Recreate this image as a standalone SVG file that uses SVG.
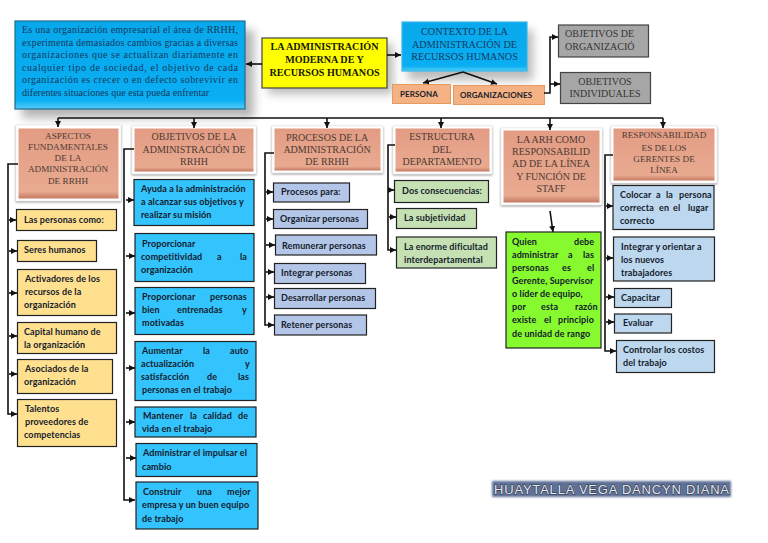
<svg xmlns="http://www.w3.org/2000/svg" width="768" height="543" viewBox="0 0 768 543">
<style>
text{font-family:"Liberation Serif","Times New Roman",serif;fill:#3f3a38}
.m{text-anchor:middle}
.h1{font-size:10px;fill:#4e3a33}
.h2{font-size:9.2px;fill:#4e3a33}
.p{font-size:10px;fill:#123a5e}
.t{font-size:10.1px;font-weight:bold;fill:#17170a}
.c{font-size:10.2px;fill:#123a5e}
.g{font-size:10px;fill:#333}
.i{font-family:Lato,"Open Sans",sans-serif;font-weight:bold;font-size:9px;letter-spacing:.1px;fill:#14202c}
.b{stroke:#222;stroke-width:1.2}
.y{fill:#ffe08f}.s{fill:#33c3fd}.v{fill:#b4c6e7}.l{fill:#c5e0b3}.k{fill:#86f92f}.u{fill:#bdd7ee}
.o{fill:#f4b183;stroke:#e59a5f;stroke-width:1}
.f{fill:#fff;stroke:#ececec;stroke-width:.6}
.w{fill:none;stroke:#111;stroke-width:1.6}
.a{marker-end:url(#ah)}
</style>
<defs>
<marker id="ah" markerUnits="userSpaceOnUse" markerWidth="7" markerHeight="7" refX="6" refY="3" orient="auto"><path d="M0 0L6 3L0 6z" fill="#111"/></marker>
<filter id="sh" x="-15%" y="-20%" width="135%" height="150%"><feGaussianBlur stdDeviation="5"/></filter>
<filter id="sf" x="-10%" y="-10%" width="120%" height="120%"><feDropShadow dx="0" dy="1" stdDeviation="1.2" flood-color="#999"/></filter>
<filter id="tb" x="-5%" y="-30%" width="110%" height="160%"><feGaussianBlur stdDeviation="1.2"/></filter>
<linearGradient id="sal" x1="0" y1="0" x2="0" y2="1"><stop offset="0" stop-color="#e39c84"/><stop offset=".9" stop-color="#e8aa90"/><stop offset="1" stop-color="#c47a60"/></linearGradient>
<linearGradient id="blu" x1="0" y1="0" x2="0" y2="1"><stop offset="0" stop-color="#08a8ec"/><stop offset=".9" stop-color="#0aaef2"/><stop offset="1" stop-color="#55cdf8"/></linearGradient>
</defs>

<g id="shadows">
<rect x="22" y="30" width="232" height="88" fill="#777" opacity=".55" filter="url(#sh)"/>
<rect x="268" y="44" width="125" height="50" fill="#777" opacity=".5" filter="url(#sh)"/>
<rect x="408" y="30" width="125" height="50" fill="#777" opacity=".5" filter="url(#sh)"/>
</g>

<g id="n-intro">
<rect x="15" y="21" width="230" height="88" fill="url(#blu)" stroke="#1d6d8c" stroke-width="1.2"/>
<text class="p"><tspan x="22" y="33" textLength="216">Es una organización empresarial el área de RRHH,</tspan></text>
<text class="p"><tspan x="22" y="46" textLength="216">experimenta demasiados cambios gracias a diversas</tspan></text>
<text class="p"><tspan x="22" y="58" textLength="216">organizaciones que se actualizan diariamente en</tspan></text>
<text class="p"><tspan x="22" y="71" textLength="216">cualquier tipo de sociedad, el objetivo de cada</tspan></text>
<text class="p"><tspan x="22" y="83" textLength="216">organización es crecer o en defecto sobrevivir en</tspan></text>
<text class="p"><tspan x="22" y="96" textLength="187">diferentes situaciones que esta pueda enfrentar</tspan></text>
</g>
<g id="n-title">
<rect x="262" y="38" width="125" height="50" fill="#ffff00" stroke="#444" stroke-width="1.2"/>
<text class="t m" x="324.500" y="50">LA ADMINISTRACIÓN</text>
<text class="t m" x="324.500" y="63">MODERNA DE Y</text>
<text class="t m" x="324.500" y="76">RECURSOS HUMANOS</text>
</g>
<g id="n-contexto">
<rect x="402" y="22" width="125" height="49" fill="url(#blu)" stroke="#35b8ea" stroke-width="1.2"/>
<text class="c m" x="464.500" y="35">CONTEXTO DE LA</text>
<text class="c m" x="464.500" y="48">ADMINISTRACIÓN DE</text>
<text class="c m" x="464.500" y="60">RECURSOS HUMANOS</text>
</g>
<g id="n-persona"><rect class="o" x="392.500" y="84.500" width="58" height="19"/><text class="i" x="400" y="97" style="font-size:8px">PERSONA</text></g>
<g id="n-organizaciones"><rect class="o" x="453.500" y="85.500" width="91" height="19"/><text class="i" x="460" y="98" style="font-size:8px">ORGANIZACIONES</text></g>
<g id="n-obj-org"><rect x="558.500" y="25" width="90" height="32" fill="#a6a6a6" stroke="#444" stroke-width="1.2"/>
<text class="g" x="565" y="37">OBJETIVOS DE</text><text class="g" x="565" y="50">ORGANIZACIÓ</text></g>
<g id="n-obj-ind"><rect x="560.500" y="72.500" width="90" height="31" fill="#a6a6a6" stroke="#444" stroke-width="1.2"/>
<text class="g m" x="605" y="85">OBJETIVOS</text><text class="g m" x="605" y="97">INDIVIDUALES</text></g>

<g id="n-aspectos">
<rect class="f" x="16" y="125" width="105" height="76" filter="url(#sf)"/>
<rect x="18.500" y="128.500" width="100" height="70" fill="url(#sal)"/>
<text class="h2 m" x="68" y="139">ASPECTOS</text><text class="h2 m" x="68" y="150">FUNDAMENTALES</text><text class="h2 m" x="68" y="161">DE LA</text><text class="h2 m" x="68" y="172">ADMINISTRACIÓN</text><text class="h2 m" x="68" y="184">DE RRHH</text>
</g>
<g id="n-objetivos">
<rect class="f" x="132" y="126" width="124" height="48" filter="url(#sf)"/>
<rect x="134.500" y="128.500" width="119" height="43" fill="url(#sal)"/>
<text class="h1 m" x="194" y="140">OBJETIVOS DE LA</text><text class="h1 m" x="194" y="153">ADMINISTRACIÓN DE</text><text class="h1 m" x="194" y="165">RRHH</text>
</g>
<g id="n-procesos">
<rect class="f" x="272" y="126" width="111" height="47" filter="url(#sf)"/>
<rect x="274.500" y="128.500" width="106" height="42" fill="url(#sal)"/>
<text class="h1 m" x="327" y="141">PROCESOS DE LA</text><text class="h1 m" x="327" y="153">ADMINISTRACIÓN</text><text class="h1 m" x="327" y="165">DE RRHH</text>
</g>
<g id="n-estructura">
<rect class="f" x="393" y="126" width="99" height="48" filter="url(#sf)"/>
<rect x="395.500" y="128.500" width="94" height="43" fill="url(#sal)"/>
<text class="h1 m" x="442" y="140">ESTRUCTURA</text><text class="h1 m" x="442" y="153">DEL</text><text class="h1 m" x="442" y="165">DEPARTAMENTO</text>
</g>
<g id="n-arh">
<rect class="f" x="501" y="128" width="101" height="77" filter="url(#sf)"/>
<rect x="503.500" y="130.500" width="96" height="72" fill="url(#sal)"/>
<text class="h1 m" x="551" y="143">LA ARH COMO</text><text class="h1 m" x="551" y="155">RESPONSABILID</text><text class="h1 m" x="551" y="167">AD DE LA LÍNEA</text><text class="h1 m" x="551" y="180">Y FUNCIÓN DE</text><text class="h1 m" x="551" y="192">STAFF</text>
</g>
<g id="n-resp">
<rect class="f" x="611" y="126" width="106" height="57" filter="url(#sf)"/>
<rect x="613.500" y="128.500" width="101" height="52" fill="url(#sal)"/>
<text class="h2 m" x="664" y="138">RESPONSABILIDAD</text><text class="h2 m" x="664" y="151">ES DE LOS</text><text class="h2 m" x="664" y="162">GERENTES DE</text><text class="h2 m" x="664" y="173">LÍNEA</text>
</g>

<g id="connectors" class="w">
<path class="a" d="M262 64H246"/>
<path class="a" d="M387 55H401"/>
<path class="a" d="M463 72L423 83"/>
<path class="a" d="M463 72L497 84"/>
<path class="a" d="M544 93H550V37H558"/>
<path class="a" d="M550 84H560"/>
<path d="M58 118H663"/>
<path class="a" d="M58 118V127"/>
<path class="a" d="M194 118V128"/>
<path class="a" d="M327 118V128"/>
<path class="a" d="M441 118V128"/>
<path class="a" d="M550 118V130"/>
<path class="a" d="M663 118V128"/>
<path class="a" d="M18 164H8V414H17"/>
<path class="a" d="M9 220H16"/><path class="a" d="M9 251H17"/><path class="a" d="M9 293H17"/><path class="a" d="M9 336H17"/><path class="a" d="M9 374H17"/>
<path class="a" d="M134 149H124V500H135"/>
<path class="a" d="M126 200H134"/><path class="a" d="M126 256H135"/><path class="a" d="M126 313H135"/><path class="a" d="M126 368H135"/><path class="a" d="M126 422H135"/><path class="a" d="M126 458H136"/>
<path class="a" d="M274 153H265V325H274"/>
<path class="a" d="M266 192H273"/><path class="a" d="M266 219H273"/><path class="a" d="M266 245H275"/><path class="a" d="M266 272H274"/><path class="a" d="M266 297H274"/>
<path class="a" d="M395 145H388V250H396"/>
<path class="a" d="M389 190H394"/><path class="a" d="M389 217H396"/>
<path class="a" d="M550 211L553 232"/>
<path class="a" d="M613 155H605V351H616"/>
<path class="a" d="M606 206H613"/><path class="a" d="M606 258H613"/><path class="a" d="M606 297H614"/><path class="a" d="M606 322H614"/>
</g>

<g id="n-a1"><rect class="y b" x="16.500" y="209.500" width="100" height="21"/><text class="i" x="24" y="223">Las personas como:</text></g>
<g id="n-a2"><rect class="y b" x="17.500" y="240.500" width="79" height="21"/><text class="i" x="24" y="253">Seres humanos</text></g>
<g id="n-a3"><rect class="y b" x="17.500" y="269.500" width="99" height="46"/><text class="i" x="25" y="282">Activadores de los</text><text class="i" x="25" y="295">recursos de la</text><text class="i" x="24" y="308">organización</text></g>
<g id="n-a4"><rect class="y b" x="17.500" y="322.500" width="99" height="31"/><text class="i" x="24" y="335">Capital humano de</text><text class="i" x="24" y="348">la organización</text></g>
<g id="n-a5"><rect class="y b" x="17.500" y="359.500" width="95" height="34"/><text class="i" x="25" y="372">Asociados de la</text><text class="i" x="24" y="385">organización</text></g>
<g id="n-a6"><rect class="y b" x="17.500" y="399.500" width="99" height="47"/><text class="i" x="25" y="412">Talentos</text><text class="i" x="25" y="425">proveedores de</text><text class="i" x="24" y="438">competencias</text></g>

<g id="n-b1"><rect class="s b" x="134" y="179.500" width="120" height="46"/><text class="i" x="141" y="192">Ayuda a la administración</text><text class="i" x="141" y="205">a alcanzar sus objetivos y</text><text class="i" x="141" y="218">realizar su misión</text></g>
<g id="n-b2"><rect class="s b" x="135" y="233.500" width="119" height="48"/><text class="i" x="142" y="247">Proporcionar</text><text class="i" y="260"><tspan x="141">competitividad</tspan><tspan x="217">a</tspan><tspan x="240">la</tspan></text><text class="i" x="141" y="273">organización</text></g>
<g id="n-b3"><rect class="s b" x="135" y="287.500" width="119" height="47"/><text class="i" y="300"><tspan x="142">Proporcionar</tspan><tspan x="210">personas</tspan></text><text class="i" y="313"><tspan x="142">bien</tspan><tspan x="177">entrenadas</tspan><tspan x="242">y</tspan></text><text class="i" x="142" y="326">motivadas</text></g>
<g id="n-b4"><rect class="s b" x="135" y="341.500" width="121" height="59"/><text class="i" y="354"><tspan x="142">Aumentar</tspan><tspan x="203">la</tspan><tspan x="230">auto</tspan></text><text class="i" y="367"><tspan x="141">actualización</tspan><tspan x="245">y</tspan></text><text class="i" y="380"><tspan x="141">satisfacción</tspan><tspan x="207">de</tspan><tspan x="238">las</tspan></text><text class="i" x="142" y="393">personas en el trabajo</text></g>
<g id="n-b5"><rect class="s b" x="135" y="407" width="121" height="30"/><text class="i" y="419"><tspan x="143">Mantener</tspan><tspan x="190">la</tspan><tspan x="203">calidad</tspan><tspan x="238">de</tspan></text><text class="i" x="142" y="432">vida en el trabajo</text></g>
<g id="n-b6"><rect class="s b" x="136" y="443.500" width="121" height="33"/><text class="i" x="143" y="456">Administrar el impulsar el</text><text class="i" x="142" y="470">cambio</text></g>
<g id="n-b7"><rect class="s b" x="136" y="482" width="122" height="47"/><text class="i" y="495"><tspan x="143">Construir</tspan><tspan x="197">una</tspan><tspan x="227">mejor</tspan></text><text class="i" x="142" y="508">empresa y un buen equipo</text><text class="i" x="142" y="522">de trabajo</text></g>

<g id="n-c1"><rect class="v b" x="273.500" y="183" width="76" height="19"/><text class="i" x="281" y="195">Procesos para:</text></g>
<g id="n-c2"><rect class="v b" x="273.500" y="209.500" width="94" height="19"/><text class="i" x="280" y="222">Organizar personas</text></g>
<g id="n-c3"><rect class="v b" x="275.500" y="235" width="101" height="20"/><text class="i" x="282" y="249">Remunerar personas</text></g>
<g id="n-c4"><rect class="v b" x="274.500" y="263.500" width="91" height="20"/><text class="i" x="281" y="276">Integrar personas</text></g>
<g id="n-c5"><rect class="v b" x="274.500" y="288.500" width="101" height="20"/><text class="i" x="281" y="301">Desarrollar personas</text></g>
<g id="n-c6"><rect class="v b" x="274.500" y="315" width="92" height="20"/><text class="i" x="281" y="328">Retener personas</text></g>

<g id="n-d1"><rect class="l b" x="394.500" y="180.500" width="94" height="22"/><text class="i" x="402" y="194">Dos consecuencias:</text></g>
<g id="n-d2"><rect class="l b" x="396.500" y="208.500" width="80" height="20"/><text class="i" x="404" y="221">La subjetividad</text></g>
<g id="n-d3"><rect class="l b" x="396.500" y="237" width="100" height="31"/><text class="i" x="404" y="250">La enorme dificultad</text><text class="i" x="404" y="263">interdepartamental</text></g>

<g id="n-green"><rect class="k b" x="506" y="232" width="95" height="116"/>
<text class="i" y="245"><tspan x="512">Quien</tspan><tspan x="574">debe</tspan></text>
<text class="i" y="258"><tspan x="512">administrar</tspan><tspan x="568">a</tspan><tspan x="583">las</tspan></text>
<text class="i" y="271"><tspan x="512">personas</tspan><tspan x="562">es</tspan><tspan x="587">el</tspan></text>
<text class="i" x="512" y="284">Gerente, Supervisor</text>
<text class="i" x="512" y="297">o líder de equipo,</text>
<text class="i" y="310"><tspan x="512">por</tspan><tspan x="541">esta</tspan><tspan x="575">razón</tspan></text>
<text class="i" y="323"><tspan x="512">existe</tspan><tspan x="544">el</tspan><tspan x="558">principio</tspan></text>
<text class="i" x="512" y="337">de unidad de rango</text></g>

<g id="n-e1"><rect class="u b" x="613" y="185.500" width="101" height="44"/><text class="i" y="198"><tspan x="620">Colocar</tspan><tspan x="656">a</tspan><tspan x="666">la</tspan><tspan x="679">persona</tspan></text><text class="i" y="211"><tspan x="620">correcta</tspan><tspan x="659">en</tspan><tspan x="673">el</tspan><tspan x="688">lugar</tspan></text><text class="i" x="620" y="224">correcto</text></g>
<g id="n-e2"><rect class="u b" x="613.500" y="237" width="101" height="44"/><text class="i" x="621" y="250">Integrar y orientar a</text><text class="i" x="621" y="263">los nuevos</text><text class="i" x="621" y="276">trabajadores</text></g>
<g id="n-e3"><rect class="u b" x="614.500" y="288.500" width="57" height="19"/><text class="i" x="621" y="301">Capacitar</text></g>
<g id="n-e4"><rect class="u b" x="614.500" y="314" width="57" height="19"/><text class="i" x="623" y="326">Evaluar</text></g>
<g id="n-e5"><rect class="u b" x="616.500" y="340.500" width="98" height="32"/><text class="i" x="623" y="353">Controlar los costos</text><text class="i" x="623" y="366">del trabajo</text></g>

<g id="n-author">
<rect x="492" y="481" width="239" height="16" fill="#5f7196" filter="url(#tb)"/>
<text x="494" y="494" textLength="235" style="font-family:'Liberation Sans',Arial,sans-serif;font-size:13px;fill:#e6eaf0;stroke:#2a3346;stroke-width:1.1;paint-order:stroke">HUAYTALLA VEGA DANCYN DIANA</text>
</g>
</svg>
